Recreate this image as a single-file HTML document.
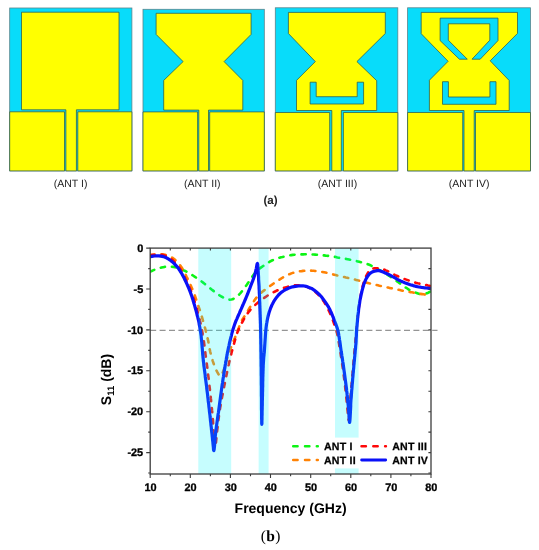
<!DOCTYPE html>
<html><head><meta charset="utf-8"><title>Antenna evolution and S11</title>
<style>html,body{margin:0;padding:0;background:#fff}svg{display:block}text{font-family:"Liberation Sans",sans-serif;fill:#000;text-rendering:geometricPrecision}.lab{font-size:10.5px;text-anchor:middle;fill:#222}.tk{font-size:10.9px;font-weight:bold;stroke:#000;stroke-width:0.3px}.lg{font-size:10.6px;font-weight:bold;letter-spacing:0.2px;stroke:#000;stroke-width:0.25px}</style></head><body>
<svg width="539" height="550" viewBox="0 0 539 550">
<rect width="539" height="550" fill="#fff"/>
<rect x="9.7" y="8.0" width="122.2" height="162.9" fill="#08dcfa" stroke="#5a848c" stroke-width="0.8"/>
<path d="M9.7 111.8 L64.5 111.8 L64.5 170.9 L9.7 170.9Z" fill="#ffff00" stroke="#2c5a4c" stroke-width="0.75"/><path d="M77.8 111.8 L131.9 111.8 L131.9 170.9 L77.8 170.9Z" fill="#ffff00" stroke="#2c5a4c" stroke-width="0.75"/>
<path d="M21.5 12.2 L119.0 12.2 L119.0 109.8 L76.4 109.8 L76.4 170.9 L65.9 170.9 L65.9 109.8 L21.5 109.8Z" fill="#ffff00" stroke="#2c5a4c" stroke-width="0.75"/>
<text class="lab" x="70.6" y="186.6">(ANT I)</text>
<rect x="143.0" y="9.3" width="121.3" height="161.6" fill="#08dcfa" stroke="#5a848c" stroke-width="0.8"/>
<path d="M143.0 111.9 L197.6 111.9 L197.6 170.9 L143.0 170.9Z" fill="#ffff00" stroke="#2c5a4c" stroke-width="0.75"/><path d="M209.7 111.9 L264.3 111.9 L264.3 170.9 L209.7 170.9Z" fill="#ffff00" stroke="#2c5a4c" stroke-width="0.75"/>
<path d="M156.1 13.3 L251.1 13.3 L251.1 34.4 L224.1 61.6 L242.8 80.4 L242.8 110.1 L208.5 110.1 L208.5 170.9 L198.8 170.9 L198.8 110.1 L163.7 110.1 L163.7 80.4 L183.1 61.6 L156.1 34.4Z" fill="#ffff00" stroke="#2c5a4c" stroke-width="0.75"/>
<text class="lab" x="202.3" y="186.6">(ANT II)</text>
<rect x="275.3" y="7.8" width="122.5" height="163.1" fill="#08dcfa" stroke="#5a848c" stroke-width="0.8"/>
<path d="M275.3 112.5 L329.7 112.5 L329.7 170.9 L275.3 170.9Z" fill="#ffff00" stroke="#2c5a4c" stroke-width="0.75"/><path d="M343.4 112.5 L397.8 112.5 L397.8 170.9 L343.4 170.9Z" fill="#ffff00" stroke="#2c5a4c" stroke-width="0.75"/>
<path d="M288.4 12.4 L385.3 12.4 L385.3 33.5 L356.9 61.6 L376.7 80.7 L376.7 110.5 L341.3 110.5 L341.3 170.9 L331.8 170.9 L331.8 110.5 L296.5 110.5 L296.5 80.4 L315.3 61.6 L288.4 33.5Z" fill="#ffff00" stroke="#2c5a4c" stroke-width="0.75"/>
<path d="M310.1 82.2 L316.2 82.2 L316.2 96.7 L357.2 96.7 L357.2 82.2 L363.6 82.2 L363.6 104.0 L310.1 104.0Z" fill="#08dcfa" stroke="#2c5a4c" stroke-width="0.75"/>
<text class="lab" x="337.4" y="186.6">(ANT III)</text>
<rect x="407.6" y="7.8" width="122.9" height="163.1" fill="#08dcfa" stroke="#5a848c" stroke-width="0.8"/>
<path d="M407.6 112.5 L462.7 112.5 L462.7 170.9 L407.6 170.9Z" fill="#ffff00" stroke="#2c5a4c" stroke-width="0.75"/><path d="M475.5 112.5 L530.5 112.5 L530.5 170.9 L475.5 170.9Z" fill="#ffff00" stroke="#2c5a4c" stroke-width="0.75"/>
<path d="M421.2 12.4 L517.5 12.4 L517.5 33.4 L490.2 60.8 L509.2 80.5 L509.2 110.5 L474.2 110.5 L474.2 170.9 L464.0 170.9 L464.0 110.5 L429.4 110.5 L429.4 80.2 L448.1 61.3 L421.2 33.7Z" fill="#ffff00" stroke="#2c5a4c" stroke-width="0.75"/>
<path d="M442.5 81.7 L448.4 81.7 L448.4 97.0 L489.9 97.0 L489.9 81.7 L496.0 81.7 L496.0 104.3 L442.5 104.3Z" fill="#08dcfa" stroke="#2c5a4c" stroke-width="0.75"/>
<path d="M467.3 59.2 L459.4 59.2 L440.1 40.6 L440.1 18.1 L498.0 18.1 L498.0 40.6 L480.2 59.2 L472.0 59.2 L489.8 40.2 L489.8 23.8 L448.3 23.8 L448.3 40.2Z" fill="#08dcfa" stroke="#2c5a4c" stroke-width="0.75"/>
<text class="lab" x="469.2" y="186.6">(ANT IV)</text>
<text x="270.5" y="204" text-anchor="middle" style="font-size:11.6px;font-weight:bold;fill:#222">(a)</text>
<path d="M150.2 330.3H437.5" stroke="#6c6c6c" stroke-width="0.9" stroke-dasharray="6 3.4" fill="none"/>
<clipPath id="pc"><rect x="150.2" y="248.1" width="280.8" height="225.9"/></clipPath>
<g stroke-linecap="round" clip-path="url(#pc)">
<path d="M150.3 271.6 L151.7 271.0 L153.0 270.4 L154.4 269.8 L155.8 269.3 L157.2 268.8 L158.6 268.3 L160.1 267.9 L161.5 267.5 L163.0 267.2 L164.5 266.9 L165.9 266.7 L167.4 266.7 L168.9 266.7 L170.4 266.7 L171.9 266.7 L173.4 266.9 L174.9 267.1 L176.3 267.4 L177.8 267.8 L179.2 268.3 L180.6 268.8 L181.9 269.5 L183.3 270.1 L184.7 270.8 L186.0 271.4 L187.3 272.1 L188.6 272.9 L189.9 273.6 L191.2 274.4 L192.4 275.2 L193.7 276.0 L194.9 276.8 L196.2 277.7 L197.4 278.5 L198.6 279.4 L199.9 280.2 L201.1 281.1 L202.3 282.0 L203.5 282.9 L204.6 283.8 L205.8 284.7 L207.0 285.7 L208.1 286.6 L209.3 287.6 L210.4 288.5 L211.6 289.5 L212.8 290.4 L214.0 291.3 L215.1 292.2 L216.3 293.1 L217.6 294.0 L218.8 294.9 L220.0 295.7 L221.3 296.5 L222.6 297.2 L223.9 297.9 L225.3 298.5 L226.7 299.0 L228.1 299.5 L229.6 299.7 L231.1 299.5 L232.5 299.2 L233.9 298.6 L235.2 297.9 L236.4 297.1 L237.5 296.1 L238.6 295.1 L239.6 294.0 L240.7 292.8 L241.6 291.7 L242.6 290.5 L243.5 289.4 L244.4 288.2 L245.3 286.9 L246.1 285.7 L247.0 284.5 L247.8 283.2 L248.7 282.0 L249.5 280.8 L250.4 279.5 L251.2 278.2 L252.0 277.0 L252.9 275.7 L253.8 274.5 L254.7 273.3 L255.6 272.2 L256.6 271.1 L257.6 270.1 L258.8 269.2 L260.0 268.3 L261.2 267.4 L262.4 266.5 L263.7 265.7 L264.9 264.8 L266.2 264.0 L267.4 263.1 L268.7 262.3 L270.0 261.5 L271.3 260.8 L272.6 260.2 L273.9 259.6 L275.3 259.1 L276.7 258.6 L278.2 258.1 L279.6 257.7 L281.1 257.3 L282.5 257.0 L284.0 256.6 L285.4 256.3 L286.9 256.0 L288.4 255.7 L289.8 255.4 L291.3 255.1 L292.8 254.9 L294.3 254.7 L295.7 254.6 L297.2 254.5 L298.7 254.5 L300.2 254.4 L301.7 254.4 L303.2 254.4 L304.7 254.3 L306.2 254.3 L307.7 254.3 L309.2 254.3 L310.7 254.3 L312.2 254.4 L313.7 254.5 L315.1 254.6 L316.6 254.7 L318.1 254.9 L319.6 255.0 L321.1 255.2 L322.6 255.3 L324.1 255.4 L325.6 255.6 L327.0 255.7 L328.5 255.9 L330.0 256.1 L331.5 256.3 L333.0 256.5 L334.4 256.8 L335.9 257.1 L337.3 257.5 L338.8 257.8 L340.3 258.0 L341.7 258.3 L343.2 258.5 L344.7 258.7 L346.2 258.9 L347.6 259.2 L349.1 259.5 L350.6 259.8 L352.0 260.1 L353.5 260.4 L355.0 260.7 L356.4 261.1 L357.9 261.4 L359.3 261.8 L360.8 262.2 L362.2 262.6 L363.7 263.0 L365.1 263.4 L366.5 263.8 L367.9 264.3 L369.3 264.8 L370.7 265.4 L372.0 266.1 L373.3 266.8 L374.7 267.5 L376.0 268.2 L377.3 268.9 L378.6 269.6 L379.9 270.3 L381.2 271.0 L382.5 271.8 L383.8 272.5 L385.1 273.3 L386.4 274.1 L387.6 274.9 L388.9 275.7 L390.1 276.5 L391.4 277.3 L392.6 278.2 L393.8 279.0 L395.0 279.9 L396.3 280.8 L397.5 281.7 L398.7 282.5 L399.9 283.4 L401.1 284.3 L402.3 285.2 L403.5 286.1 L404.7 286.9 L406.0 287.7 L407.3 288.5 L408.5 289.3 L409.8 290.0 L411.2 290.7 L412.5 291.3 L413.9 291.9 L415.3 292.5 L416.7 293.0 L418.1 293.6 L419.6 294.0 L421.0 294.2 L422.5 294.1 L424.0 293.9 L425.5 293.6 L426.9 293.2 L428.3 292.7 L429.6 292.0 L430.9 291.2" fill="none" stroke="#0cf414" stroke-width="2.6" stroke-linejoin="round" stroke-dasharray="4.3 6.9"/>
<path d="M150.3 255.0 L151.8 254.8 L153.3 254.7 L154.8 254.6 L156.3 254.5 L157.8 254.5 L159.3 254.4 L160.8 254.4 L162.3 254.4 L163.8 254.5 L165.2 254.8 L166.7 255.3 L168.1 255.8 L169.5 256.3 L170.9 256.9 L172.2 257.6 L173.4 258.5 L174.6 259.4 L175.7 260.4 L176.8 261.5 L177.9 262.6 L178.9 263.7 L179.8 264.9 L180.6 266.0 L181.5 267.3 L182.3 268.5 L183.0 269.8 L183.8 271.2 L184.5 272.5 L185.2 273.9 L185.8 275.2 L186.5 276.6 L187.2 277.9 L187.9 279.2 L188.5 280.6 L189.2 281.9 L189.8 283.3 L190.4 284.7 L191.0 286.0 L191.6 287.4 L192.2 288.8 L192.8 290.2 L193.3 291.6 L193.9 293.0 L194.4 294.4 L194.9 295.8 L195.4 297.2 L195.9 298.6 L196.4 300.1 L196.8 301.5 L197.3 302.9 L197.8 304.3 L198.3 305.7 L198.8 307.1 L199.3 308.6 L199.8 310.0 L200.2 311.4 L200.7 312.8 L201.1 314.3 L201.5 315.7 L202.0 317.2 L202.4 318.6 L202.8 320.0 L203.2 321.5 L203.6 322.9 L204.0 324.4 L204.4 325.8 L204.8 327.3 L205.2 328.7 L205.6 330.2 L205.9 331.6 L206.3 333.1 L206.7 334.5 L207.1 336.0 L207.4 337.4 L207.7 338.9 L208.1 340.4 L208.4 341.8 L208.6 343.3 L208.9 344.8 L209.1 346.3 L209.4 347.7 L209.7 349.2 L210.0 350.7 L210.3 352.1 L210.7 353.6 L211.1 355.0 L211.4 356.5 L211.9 357.9 L212.3 359.4 L212.7 360.8 L213.2 362.3 L213.7 363.7 L214.1 365.1 L214.7 366.5 L215.2 367.9 L215.8 369.3 L216.5 370.6 L217.2 371.9 L218.0 373.3 L218.9 374.9 L219.8 376.0 L220.7 375.9 L221.6 374.7 L222.5 373.1 L223.1 371.7 L223.7 370.3 L224.1 368.9 L224.5 367.4 L224.9 366.0 L225.3 364.5 L225.7 363.0 L226.1 361.6 L226.6 360.2 L227.0 358.7 L227.5 357.3 L228.0 355.9 L228.4 354.5 L228.9 353.0 L229.4 351.6 L229.9 350.2 L230.4 348.8 L231.0 347.4 L231.5 346.0 L232.1 344.6 L232.7 343.2 L233.2 341.9 L233.8 340.5 L234.4 339.1 L235.0 337.7 L235.5 336.3 L236.1 334.9 L236.7 333.5 L237.2 332.1 L237.8 330.7 L238.3 329.3 L238.8 327.9 L239.3 326.5 L239.8 325.1 L240.3 323.7 L240.9 322.3 L241.5 321.0 L242.3 319.7 L243.1 318.4 L243.9 317.2 L244.8 315.9 L245.6 314.6 L246.4 313.4 L247.1 312.1 L247.9 310.8 L248.7 309.5 L249.4 308.2 L250.2 306.9 L251.0 305.6 L251.8 304.4 L252.6 303.1 L253.4 301.9 L254.3 300.6 L255.1 299.4 L256.0 298.2 L257.0 297.0 L257.9 295.8 L258.9 294.8 L260.0 293.7 L261.1 292.8 L262.3 291.8 L263.5 290.9 L264.7 290.0 L265.9 289.1 L267.1 288.2 L268.3 287.3 L269.5 286.4 L270.8 285.5 L272.0 284.7 L273.2 283.8 L274.4 282.9 L275.7 282.1 L276.9 281.3 L278.2 280.5 L279.5 279.7 L280.7 278.8 L282.0 278.0 L283.3 277.2 L284.6 276.5 L285.9 275.8 L287.2 275.1 L288.6 274.5 L290.0 274.0 L291.4 273.4 L292.8 272.9 L294.3 272.4 L295.7 272.0 L297.2 271.7 L298.7 271.4 L300.1 271.2 L301.6 271.1 L303.1 270.9 L304.6 270.8 L306.1 270.7 L307.6 270.6 L309.1 270.6 L310.6 270.6 L312.1 270.7 L313.6 270.8 L315.1 271.0 L316.6 271.2 L318.1 271.4 L319.6 271.6 L321.0 271.8 L322.5 272.0 L324.0 272.3 L325.5 272.6 L326.9 272.9 L328.4 273.2 L329.9 273.6 L331.3 273.9 L332.8 274.3 L334.2 274.7 L335.7 275.1 L337.1 275.5 L338.6 275.8 L340.0 276.2 L341.5 276.5 L342.9 276.8 L344.4 277.1 L345.9 277.5 L347.3 277.8 L348.8 278.1 L350.3 278.5 L351.7 278.8 L353.2 279.2 L354.6 279.5 L356.1 279.9 L357.5 280.3 L359.0 280.6 L360.4 281.0 L361.9 281.4 L363.3 281.8 L364.8 282.1 L366.2 282.5 L367.7 282.9 L369.2 283.3 L370.6 283.6 L372.1 284.0 L373.5 284.3 L375.0 284.7 L376.4 285.0 L377.9 285.3 L379.4 285.7 L380.8 286.0 L382.3 286.3 L383.8 286.6 L385.2 286.9 L386.7 287.3 L388.2 287.6 L389.6 287.9 L391.1 288.2 L392.6 288.5 L394.0 288.9 L395.5 289.2 L396.9 289.5 L398.4 289.8 L399.9 290.1 L401.4 290.4 L402.8 290.7 L404.3 291.0 L405.8 291.3 L407.2 291.5 L408.7 291.8 L410.2 292.1 L411.7 292.3 L413.1 292.6 L414.6 292.9 L416.1 293.1 L417.6 293.4 L419.1 293.6 L420.5 293.9 L422.0 294.1 L423.5 294.3 L425.0 294.6 L426.5 294.8 L427.9 295.0 L429.4 295.3 L430.9 295.5" fill="none" stroke="#ff8204" stroke-width="2.6" stroke-linejoin="round" stroke-dasharray="4.3 6.9"/>
<path d="M150.3 255.2 L151.8 255.0 L153.3 254.8 L154.8 254.7 L156.3 254.6 L157.8 254.6 L159.3 254.7 L160.8 254.8 L162.3 254.9 L163.7 255.1 L165.1 255.6 L166.5 256.2 L167.9 256.9 L169.2 257.6 L170.4 258.4 L171.6 259.3 L172.8 260.3 L173.9 261.4 L174.9 262.4 L175.9 263.5 L176.9 264.7 L177.9 265.8 L178.8 267.0 L179.7 268.3 L180.5 269.5 L181.3 270.8 L182.0 272.0 L182.7 273.4 L183.4 274.7 L184.1 276.0 L184.8 277.4 L185.4 278.8 L186.1 280.1 L186.7 281.5 L187.3 282.8 L188.0 284.2 L188.6 285.5 L189.2 286.9 L189.8 288.3 L190.4 289.7 L190.9 291.1 L191.5 292.4 L192.0 293.8 L192.5 295.3 L193.0 296.7 L193.5 298.1 L194.0 299.5 L194.4 300.9 L194.9 302.4 L195.3 303.8 L195.8 305.2 L196.2 306.7 L196.6 308.1 L197.0 309.5 L197.4 311.0 L197.8 312.4 L198.2 313.9 L198.6 315.3 L199.0 316.8 L199.3 318.2 L199.7 319.7 L200.0 321.1 L200.4 322.6 L200.7 324.1 L201.0 325.5 L201.3 327.0 L201.6 328.5 L201.9 329.9 L202.2 331.4 L202.5 332.9 L202.7 334.3 L203.0 335.8 L203.2 337.3 L203.4 338.8 L203.7 340.3 L203.9 341.7 L204.1 343.2 L204.3 344.7 L204.5 346.2 L204.7 347.7 L204.9 349.2 L205.1 350.7 L205.3 352.1 L205.4 353.6 L205.6 355.1 L205.8 356.6 L206.0 358.1 L206.2 359.6 L206.4 361.1 L206.6 362.5 L206.8 364.0 L207.0 365.5 L207.2 367.0 L207.4 368.5 L207.6 370.0 L207.7 371.5 L207.9 372.9 L208.1 374.4 L208.3 375.9 L208.5 377.4 L208.7 378.9 L208.8 380.4 L209.0 381.9 L209.2 383.3 L209.4 384.8 L209.5 386.3 L209.7 387.8 L209.9 389.3 L210.0 390.8 L210.2 392.3 L210.4 393.8 L210.5 395.3 L210.7 396.7 L210.8 398.2 L211.0 399.7 L211.1 401.2 L211.3 402.7 L211.4 404.2 L211.6 405.7 L211.7 407.2 L211.9 408.7 L212.0 410.2 L212.2 411.6 L212.3 413.1 L212.5 414.6 L212.6 416.2 L212.7 417.8 L212.9 419.6 L213.0 421.4 L213.1 423.3 L213.3 425.2 L213.4 427.2 L213.5 429.2 L213.6 431.2 L213.7 433.1 L213.9 435.0 L214.0 436.9 L214.1 438.6 L214.2 440.3 L214.3 441.8 L214.5 443.2 L214.6 444.4 L214.7 445.5 L214.9 446.3 L215.0 447.0 L215.1 447.4 L215.3 447.5 L215.4 447.2 L215.6 446.2 L215.8 444.8 L215.9 443.0 L216.1 441.0 L216.3 439.1 L216.5 437.2 L216.6 435.6 L216.8 434.2 L217.0 432.7 L217.1 431.2 L217.3 429.7 L217.5 428.2 L217.7 426.7 L217.8 425.2 L218.0 423.7 L218.2 422.2 L218.3 420.8 L218.5 419.3 L218.7 417.8 L218.9 416.3 L219.1 414.8 L219.3 413.3 L219.5 411.9 L219.7 410.4 L220.0 408.9 L220.2 407.4 L220.5 405.9 L220.7 404.5 L221.0 403.0 L221.3 401.5 L221.6 400.1 L221.8 398.6 L222.1 397.1 L222.4 395.6 L222.7 394.2 L223.0 392.7 L223.3 391.2 L223.6 389.8 L223.9 388.3 L224.1 386.8 L224.4 385.3 L224.7 383.9 L225.0 382.4 L225.3 380.9 L225.6 379.5 L225.9 378.0 L226.2 376.5 L226.5 375.1 L226.8 373.6 L227.1 372.1 L227.4 370.7 L227.7 369.2 L228.0 367.7 L228.3 366.3 L228.7 364.8 L229.0 363.3 L229.3 361.9 L229.7 360.4 L230.0 359.0 L230.4 357.5 L230.7 356.1 L231.1 354.6 L231.4 353.2 L231.8 351.7 L232.2 350.3 L232.6 348.8 L233.0 347.4 L233.4 345.9 L233.8 344.5 L234.2 343.0 L234.6 341.6 L235.0 340.1 L235.4 338.7 L235.8 337.3 L236.3 335.8 L236.7 334.4 L237.2 333.0 L237.8 331.6 L238.3 330.2 L238.9 328.8 L239.5 327.5 L240.2 326.1 L240.9 324.8 L241.6 323.5 L242.3 322.1 L243.0 320.8 L243.7 319.5 L244.5 318.2 L245.2 316.9 L246.0 315.6 L246.8 314.4 L247.7 313.2 L248.6 312.0 L249.6 310.8 L250.5 309.7 L251.6 308.6 L252.6 307.5 L253.6 306.4 L254.7 305.4 L255.8 304.4 L256.9 303.4 L258.1 302.4 L259.3 301.5 L260.4 300.5 L261.6 299.6 L262.9 298.8 L264.1 297.9 L265.3 297.1 L266.6 296.2 L267.8 295.4 L269.1 294.6 L270.4 293.9 L271.7 293.2 L273.1 292.5 L274.4 291.8 L275.7 291.2 L277.1 290.5 L278.5 289.9 L279.9 289.3 L281.3 288.8 L282.7 288.3 L284.1 287.8 L285.5 287.4 L287.0 287.0 L288.4 286.5 L289.9 286.2 L291.4 285.8 L292.8 285.5 L294.3 285.4 L295.8 285.3 L297.3 285.3 L298.8 285.4 L300.3 285.5 L301.8 285.6 L303.3 285.8 L304.7 286.1 L306.2 286.6 L307.6 287.1 L309.0 287.7 L310.3 288.4 L311.6 289.1 L312.8 289.9 L314.0 290.9 L315.2 291.9 L316.3 292.9 L317.4 293.9 L318.5 294.9 L319.5 296.0 L320.5 297.2 L321.5 298.3 L322.4 299.5 L323.3 300.7 L324.1 301.9 L324.9 303.2 L325.7 304.5 L326.4 305.8 L327.1 307.1 L327.8 308.5 L328.4 309.8 L329.1 311.2 L329.7 312.5 L330.3 313.9 L330.9 315.3 L331.5 316.7 L332.0 318.1 L332.6 319.5 L333.1 320.9 L333.6 322.3 L334.1 323.7 L334.6 325.1 L335.1 326.5 L335.6 328.0 L336.0 329.4 L336.4 330.8 L336.8 332.3 L337.2 333.7 L337.5 335.2 L337.8 336.6 L338.1 338.1 L338.3 339.6 L338.6 341.1 L338.8 342.5 L339.1 344.0 L339.3 345.5 L339.5 347.0 L339.8 348.5 L340.0 349.9 L340.2 351.4 L340.5 352.9 L340.7 354.4 L340.9 355.9 L341.2 357.3 L341.4 358.8 L341.6 360.3 L341.8 361.8 L342.0 363.3 L342.3 364.8 L342.5 366.2 L342.7 367.7 L342.9 369.2 L343.1 370.7 L343.3 372.2 L343.5 373.7 L343.7 375.1 L343.9 376.6 L344.1 378.1 L344.3 379.6 L344.4 381.1 L344.6 382.6 L344.8 384.1 L345.0 385.5 L345.2 387.0 L345.3 388.5 L345.5 390.0 L345.7 391.5 L345.8 393.0 L346.0 394.5 L346.1 396.0 L346.3 397.5 L346.4 398.9 L346.6 400.4 L346.7 401.9 L346.8 403.4 L347.0 404.9 L347.1 406.4 L347.3 407.9 L347.4 409.4 L347.6 410.9 L347.8 412.8 L347.9 414.8 L348.1 416.7 L348.3 418.3 L348.4 419.5 L348.6 420.0 L348.7 419.8 L348.8 419.1 L349.0 417.9 L349.1 416.4 L349.2 414.7 L349.3 412.8 L349.4 410.8 L349.5 408.8 L349.7 406.9 L349.8 405.3 L349.9 403.8 L350.0 402.3 L350.1 400.8 L350.3 399.3 L350.4 397.8 L350.5 396.3 L350.7 394.8 L350.8 393.3 L350.9 391.8 L351.0 390.3 L351.2 388.9 L351.3 387.4 L351.4 385.9 L351.6 384.4 L351.7 382.9 L351.8 381.4 L351.9 379.9 L352.1 378.4 L352.2 376.9 L352.3 375.4 L352.5 373.9 L352.6 372.4 L352.7 371.0 L352.8 369.5 L353.0 368.0 L353.1 366.5 L353.2 365.0 L353.4 363.5 L353.5 362.0 L353.6 360.5 L353.8 359.0 L353.9 357.5 L354.0 356.0 L354.2 354.5 L354.3 353.0 L354.4 351.6 L354.6 350.1 L354.7 348.6 L354.9 347.1 L355.0 345.6 L355.1 344.1 L355.3 342.6 L355.4 341.1 L355.5 339.6 L355.7 338.1 L355.8 336.6 L355.9 335.1 L356.1 333.7 L356.2 332.2 L356.3 330.7 L356.4 329.2 L356.6 327.7 L356.7 326.2 L356.8 324.7 L357.0 323.2 L357.1 321.7 L357.3 320.2 L357.4 318.7 L357.6 317.3 L357.8 315.8 L357.9 314.3 L358.1 312.8 L358.3 311.3 L358.5 309.8 L358.7 308.3 L358.9 306.9 L359.2 305.4 L359.4 303.9 L359.6 302.4 L359.8 300.9 L360.1 299.5 L360.3 298.0 L360.6 296.5 L360.8 295.0 L361.1 293.5 L361.4 292.1 L361.7 290.6 L362.0 289.1 L362.3 287.7 L362.7 286.2 L363.1 284.8 L363.5 283.3 L363.9 281.9 L364.4 280.4 L364.9 279.0 L365.5 277.6 L366.1 276.2 L366.8 274.9 L367.5 273.6 L368.3 272.2 L369.3 270.8 L370.3 269.6 L371.4 268.8 L372.6 268.5 L374.0 268.4 L375.6 268.3 L377.2 268.2 L378.7 268.2 L380.2 268.2 L381.6 268.6 L383.1 269.1 L384.5 269.8 L385.8 270.4 L387.2 271.0 L388.6 271.7 L389.9 272.4 L391.2 273.1 L392.5 273.8 L393.9 274.5 L395.2 275.1 L396.6 275.7 L398.0 276.3 L399.4 276.9 L400.8 277.4 L402.1 278.0 L403.5 278.6 L404.9 279.1 L406.3 279.6 L407.7 280.1 L409.2 280.6 L410.6 281.1 L412.0 281.6 L413.4 282.1 L414.9 282.5 L416.3 282.9 L417.7 283.3 L419.2 283.6 L420.7 283.9 L422.1 284.2 L423.6 284.5 L425.1 284.8 L426.5 285.1 L428.0 285.5 L429.4 285.8 L430.9 286.2" fill="none" stroke="#ff0808" stroke-width="2.6" stroke-linejoin="round" stroke-dasharray="4.3 6.9"/>
<path d="M150.3 256.7 L151.8 256.4 L153.2 256.1 L154.7 256.0 L156.2 255.8 L157.7 255.8 L159.2 255.9 L160.7 256.2 L162.2 256.4 L163.7 256.8 L165.1 257.2 L166.4 257.8 L167.7 258.5 L169.0 259.4 L170.3 260.3 L171.5 261.2 L172.6 262.1 L173.7 263.1 L174.8 264.2 L175.8 265.3 L176.8 266.4 L177.8 267.6 L178.7 268.8 L179.5 270.0 L180.3 271.3 L181.1 272.5 L181.9 273.8 L182.6 275.2 L183.3 276.5 L184.0 277.9 L184.6 279.2 L185.3 280.6 L185.9 281.9 L186.6 283.3 L187.2 284.6 L187.8 286.0 L188.4 287.4 L189.0 288.8 L189.5 290.2 L190.1 291.6 L190.6 293.0 L191.1 294.4 L191.6 295.8 L192.1 297.2 L192.5 298.6 L193.0 300.1 L193.4 301.5 L193.8 302.9 L194.3 304.4 L194.7 305.8 L195.1 307.3 L195.5 308.7 L195.9 310.2 L196.3 311.6 L196.7 313.1 L197.0 314.5 L197.4 316.0 L197.8 317.4 L198.1 318.9 L198.5 320.3 L198.8 321.8 L199.1 323.3 L199.3 324.7 L199.6 326.2 L199.9 327.7 L200.1 329.2 L200.3 330.7 L200.6 332.1 L200.8 333.6 L201.0 335.1 L201.2 336.6 L201.3 338.1 L201.5 339.6 L201.6 341.1 L201.8 342.6 L201.9 344.1 L202.0 345.5 L202.1 347.0 L202.3 348.5 L202.4 350.0 L202.5 351.5 L202.6 353.0 L202.7 354.5 L202.9 356.0 L203.0 357.5 L203.2 359.0 L203.3 360.5 L203.5 362.0 L203.7 363.5 L203.8 365.0 L204.0 366.4 L204.2 367.9 L204.4 369.4 L204.6 370.9 L204.8 372.4 L205.0 373.9 L205.2 375.4 L205.3 376.9 L205.5 378.3 L205.7 379.8 L205.9 381.3 L206.1 382.8 L206.3 384.3 L206.5 385.8 L206.7 387.3 L206.8 388.8 L207.0 390.2 L207.2 391.7 L207.4 393.2 L207.6 394.7 L207.7 396.2 L207.9 397.7 L208.1 399.2 L208.2 400.7 L208.4 402.2 L208.6 403.6 L208.8 405.1 L208.9 406.6 L209.1 408.1 L209.3 409.6 L209.4 411.1 L209.6 412.6 L209.8 414.1 L210.0 415.6 L210.1 417.0 L210.3 418.5 L210.4 420.0 L210.6 421.5 L210.8 423.0 L210.9 424.5 L211.1 426.0 L211.3 427.5 L211.4 429.0 L211.6 430.5 L211.7 431.9 L211.9 433.4 L212.1 434.9 L212.2 436.4 L212.4 437.9 L212.5 439.4 L212.7 440.9 L212.9 442.4 L213.0 443.9 L213.2 445.7 L213.4 447.7 L213.5 449.4 L213.7 450.4 L213.9 450.5 L214.0 450.0 L214.2 449.1 L214.3 447.9 L214.5 446.3 L214.6 444.5 L214.8 442.6 L214.9 440.6 L215.1 438.7 L215.2 436.8 L215.4 435.0 L215.6 433.5 L215.7 432.0 L215.9 430.5 L216.1 429.0 L216.3 427.5 L216.5 426.0 L216.7 424.6 L216.9 423.1 L217.1 421.6 L217.3 420.1 L217.5 418.6 L217.7 417.1 L217.9 415.6 L218.1 414.2 L218.4 412.7 L218.6 411.2 L218.8 409.7 L219.0 408.2 L219.2 406.7 L219.4 405.2 L219.6 403.8 L219.8 402.3 L220.0 400.8 L220.2 399.3 L220.4 397.8 L220.6 396.3 L220.8 394.8 L221.0 393.4 L221.2 391.9 L221.4 390.4 L221.6 388.9 L221.8 387.4 L222.0 385.9 L222.2 384.5 L222.5 383.0 L222.7 381.5 L222.9 380.0 L223.1 378.5 L223.4 377.0 L223.6 375.6 L223.8 374.1 L224.0 372.6 L224.3 371.1 L224.5 369.6 L224.8 368.2 L225.0 366.7 L225.2 365.2 L225.5 363.7 L225.7 362.2 L226.0 360.8 L226.3 359.3 L226.5 357.8 L226.8 356.3 L227.1 354.9 L227.3 353.4 L227.6 351.9 L227.9 350.5 L228.2 349.0 L228.5 347.5 L228.9 346.1 L229.2 344.6 L229.5 343.1 L229.8 341.7 L230.2 340.2 L230.5 338.7 L230.9 337.3 L231.3 335.8 L231.6 334.4 L232.0 332.9 L232.4 331.5 L232.8 330.1 L233.3 328.6 L233.7 327.2 L234.2 325.8 L234.7 324.3 L235.2 322.9 L235.7 321.5 L236.3 320.1 L236.9 318.8 L237.5 317.4 L238.1 316.0 L238.7 314.6 L239.3 313.3 L239.9 311.9 L240.5 310.5 L241.1 309.2 L241.7 307.8 L242.3 306.4 L242.9 305.0 L243.5 303.7 L244.1 302.3 L244.7 300.9 L245.3 299.5 L245.9 298.2 L246.4 296.8 L247.0 295.4 L247.6 294.0 L248.1 292.6 L248.7 291.2 L249.2 289.8 L249.8 288.4 L250.3 287.0 L250.8 285.6 L251.4 284.2 L251.9 282.8 L252.5 281.4 L253.0 280.0 L253.5 278.6 L254.0 277.2 L254.5 275.8 L254.9 274.3 L255.3 272.9 L255.6 271.4 L256.0 270.0 L256.3 268.5 L256.6 266.7 L256.9 264.8 L257.2 263.6 L257.4 263.5 L257.6 264.0 L257.7 265.1 L257.9 266.5 L258.0 268.1 L258.1 270.0 L258.3 272.0 L258.4 274.0 L258.5 275.9 L258.6 277.6 L258.6 279.1 L258.7 280.6 L258.8 282.1 L258.9 283.6 L259.0 285.1 L259.1 286.6 L259.1 288.1 L259.2 289.6 L259.3 291.1 L259.3 292.6 L259.4 294.1 L259.5 295.6 L259.5 297.1 L259.6 298.6 L259.6 300.1 L259.7 301.6 L259.8 303.1 L259.8 304.6 L259.9 306.1 L259.9 307.6 L260.0 309.1 L260.0 310.6 L260.1 312.1 L260.1 313.6 L260.2 315.1 L260.2 316.6 L260.3 318.1 L260.3 319.6 L260.4 321.1 L260.4 322.6 L260.5 324.1 L260.5 325.6 L260.5 327.1 L260.6 328.6 L260.6 330.1 L260.6 331.6 L260.7 333.1 L260.7 334.6 L260.7 336.1 L260.7 337.6 L260.8 339.1 L260.8 340.6 L260.8 342.1 L260.8 343.6 L260.9 345.1 L260.9 346.6 L260.9 348.1 L260.9 349.6 L260.9 351.1 L261.0 352.6 L261.0 354.1 L261.0 355.6 L261.0 357.0 L261.0 358.5 L261.1 360.0 L261.1 361.5 L261.1 363.0 L261.1 364.5 L261.1 366.0 L261.2 367.5 L261.2 369.0 L261.2 370.5 L261.2 372.0 L261.2 373.5 L261.2 375.0 L261.3 376.5 L261.3 378.0 L261.3 379.5 L261.3 381.1 L261.3 382.7 L261.3 384.4 L261.4 386.1 L261.4 388.0 L261.4 389.9 L261.4 391.8 L261.4 393.7 L261.4 395.7 L261.5 397.7 L261.5 399.7 L261.5 401.7 L261.5 403.7 L261.5 405.6 L261.5 407.5 L261.5 409.4 L261.6 411.2 L261.6 412.9 L261.6 414.5 L261.6 416.1 L261.6 417.5 L261.6 418.9 L261.7 420.1 L261.7 421.2 L261.7 422.1 L261.7 422.9 L261.7 423.5 L261.8 424.0 L261.8 424.2 L261.8 424.3 L261.8 424.1 L261.9 423.7 L261.9 423.0 L261.9 422.0 L261.9 420.9 L262.0 419.6 L262.0 418.1 L262.0 416.5 L262.1 414.8 L262.1 413.0 L262.1 411.1 L262.2 409.1 L262.2 407.1 L262.3 405.1 L262.3 403.2 L262.3 401.2 L262.4 399.3 L262.4 397.5 L262.5 395.7 L262.5 394.1 L262.5 392.6 L262.6 391.1 L262.6 389.6 L262.6 388.1 L262.7 386.6 L262.7 385.1 L262.7 383.6 L262.7 382.1 L262.8 380.6 L262.8 379.1 L262.8 377.6 L262.9 376.1 L262.9 374.6 L263.0 373.1 L263.0 371.6 L263.1 370.1 L263.1 368.6 L263.2 367.1 L263.2 365.6 L263.3 364.1 L263.4 362.7 L263.5 361.2 L263.6 359.7 L263.7 358.2 L263.8 356.7 L264.0 355.2 L264.1 353.7 L264.3 352.2 L264.4 350.7 L264.5 349.2 L264.6 347.7 L264.7 346.2 L264.8 344.7 L264.9 343.2 L265.0 341.7 L265.1 340.2 L265.2 338.7 L265.3 337.2 L265.4 335.7 L265.5 334.2 L265.6 332.7 L265.7 331.3 L265.9 329.8 L266.0 328.3 L266.2 326.8 L266.4 325.3 L266.6 323.8 L266.9 322.3 L267.1 320.8 L267.4 319.4 L267.7 317.9 L268.0 316.5 L268.4 315.0 L268.8 313.5 L269.2 312.1 L269.7 310.7 L270.2 309.3 L270.7 307.9 L271.3 306.5 L271.9 305.1 L272.6 303.8 L273.3 302.4 L274.0 301.1 L274.8 299.9 L275.7 298.6 L276.5 297.4 L277.5 296.2 L278.5 295.0 L279.5 294.0 L280.6 293.0 L281.7 292.1 L283.0 291.2 L284.3 290.3 L285.6 289.6 L286.9 289.0 L288.3 288.3 L289.7 287.8 L291.1 287.3 L292.6 286.8 L294.0 286.6 L295.5 286.4 L297.0 286.2 L298.5 286.0 L300.0 285.9 L301.5 285.8 L303.0 285.8 L304.5 286.0 L306.0 286.4 L307.4 286.8 L308.9 287.4 L310.2 287.9 L311.6 288.5 L312.8 289.2 L314.1 290.1 L315.3 291.0 L316.5 292.0 L317.6 293.0 L318.7 294.0 L319.8 295.0 L320.8 296.1 L321.8 297.3 L322.7 298.5 L323.6 299.7 L324.5 300.9 L325.4 302.1 L326.2 303.3 L327.0 304.6 L327.8 305.9 L328.6 307.2 L329.3 308.5 L330.0 309.8 L330.6 311.2 L331.2 312.5 L331.8 313.9 L332.4 315.3 L332.9 316.7 L333.5 318.1 L334.0 319.5 L334.5 320.9 L335.1 322.3 L335.6 323.7 L336.2 325.2 L336.7 326.6 L337.2 328.0 L337.6 329.4 L338.0 330.9 L338.3 332.3 L338.6 333.8 L338.8 335.2 L339.1 336.7 L339.3 338.2 L339.5 339.7 L339.8 341.2 L340.0 342.7 L340.2 344.1 L340.4 345.6 L340.6 347.1 L340.8 348.6 L341.0 350.1 L341.2 351.6 L341.5 353.1 L341.7 354.5 L341.9 356.0 L342.2 357.5 L342.4 359.0 L342.6 360.5 L342.8 362.0 L343.1 363.4 L343.3 364.9 L343.5 366.4 L343.7 367.9 L343.9 369.4 L344.1 370.9 L344.3 372.3 L344.5 373.8 L344.7 375.3 L344.9 376.8 L345.1 378.3 L345.3 379.8 L345.5 381.3 L345.7 382.7 L345.9 384.2 L346.1 385.7 L346.3 387.2 L346.5 388.7 L346.6 390.2 L346.8 391.7 L347.0 393.2 L347.1 394.7 L347.3 396.1 L347.4 397.6 L347.6 399.1 L347.7 400.6 L347.9 402.1 L348.0 403.6 L348.2 405.1 L348.3 406.6 L348.4 408.1 L348.6 409.6 L348.7 411.2 L348.8 413.0 L349.0 415.0 L349.1 416.9 L349.2 418.8 L349.3 420.4 L349.4 421.6 L349.5 422.3 L349.6 422.4 L349.7 422.0 L349.8 421.3 L349.9 420.3 L350.0 419.1 L350.1 417.6 L350.2 415.9 L350.3 414.1 L350.4 412.2 L350.5 410.2 L350.6 408.3 L350.7 406.3 L350.7 404.4 L350.8 402.5 L350.9 400.9 L351.0 399.3 L351.2 397.8 L351.3 396.3 L351.4 394.8 L351.5 393.4 L351.6 391.9 L351.7 390.4 L351.9 388.9 L352.0 387.4 L352.1 385.9 L352.2 384.4 L352.4 382.9 L352.5 381.4 L352.6 379.9 L352.7 378.4 L352.9 376.9 L353.0 375.4 L353.1 373.9 L353.3 372.4 L353.4 370.9 L353.5 369.5 L353.7 368.0 L353.8 366.5 L353.9 365.0 L354.1 363.5 L354.2 362.0 L354.4 360.5 L354.5 359.0 L354.6 357.5 L354.8 356.0 L354.9 354.5 L355.1 353.0 L355.2 351.5 L355.3 350.0 L355.5 348.6 L355.6 347.1 L355.7 345.6 L355.9 344.1 L356.0 342.6 L356.1 341.1 L356.1 339.6 L356.2 338.1 L356.3 336.6 L356.4 335.1 L356.4 333.6 L356.5 332.1 L356.6 330.6 L356.7 329.1 L356.8 327.6 L357.0 326.1 L357.1 324.6 L357.2 323.1 L357.4 321.6 L357.5 320.1 L357.6 318.6 L357.8 317.2 L357.9 315.7 L358.1 314.2 L358.3 312.7 L358.5 311.2 L358.6 309.7 L358.8 308.2 L359.0 306.7 L359.2 305.3 L359.5 303.8 L359.7 302.3 L359.9 300.8 L360.2 299.3 L360.5 297.9 L360.8 296.4 L361.1 294.9 L361.4 293.5 L361.8 292.0 L362.1 290.5 L362.5 289.1 L362.9 287.6 L363.3 286.2 L363.7 284.7 L364.2 283.3 L364.8 281.9 L365.3 280.5 L366.0 279.1 L366.7 277.8 L367.5 276.5 L368.3 275.3 L369.3 274.2 L370.4 273.1 L371.7 272.2 L373.0 271.6 L374.4 271.2 L375.9 270.9 L377.4 270.7 L378.9 270.6 L380.3 270.9 L381.7 271.4 L383.2 272.0 L384.5 272.7 L385.9 273.2 L387.3 273.9 L388.6 274.5 L390.0 275.2 L391.3 275.9 L392.6 276.6 L394.0 277.3 L395.3 278.0 L396.6 278.8 L397.9 279.6 L399.2 280.3 L400.5 280.9 L401.9 281.5 L403.3 282.1 L404.7 282.7 L406.1 283.2 L407.5 283.7 L408.9 284.2 L410.3 284.7 L411.8 285.1 L413.2 285.6 L414.6 286.0 L416.1 286.4 L417.5 286.7 L419.0 287.0 L420.5 287.2 L422.0 287.5 L423.5 287.7 L424.9 287.8 L426.4 288.0 L427.9 288.2 L429.4 288.4 L430.9 288.6" fill="none" stroke="#0a10f8" stroke-width="3.2" stroke-linejoin="round"/>
</g>
<g fill="#00f4fa" fill-opacity="0.225">
<rect x="198.3" y="248.1" width="32.9" height="225.9"/>
<rect x="258.6" y="248.1" width="10.0" height="225.9"/>
<rect x="335.0" y="248.1" width="23.6" height="225.9"/>
</g>
<rect x="286" y="437.6" width="144" height="30.8" fill="#fff"/>
<g fill="none" stroke-width="2.5" stroke-linecap="round">
<path d="M293.2 446.2h4.4m7.4 0h4.4m7.4 0h1" stroke="#0cf414"/>
<path d="M293.2 459.9h4.4m7.4 0h4.4m7.4 0h1" stroke="#ff8204"/>
<path d="M361.5 446.3h4.4m7.4 0h4.4m7.4 0h0.8" stroke="#ff0808"/>
<path d="M361.6 460h24.1" stroke="#0a10f8" stroke-width="2.8"/>
</g>
<text class="lg" x="324" y="449.9">ANT I</text>
<text class="lg" x="324" y="463.6">ANT II</text>
<text class="lg" x="392.2" y="449.9">ANT III</text>
<text class="lg" x="392.2" y="463.6">ANT IV</text>
<rect x="150.2" y="248.1" width="280.8" height="225.9" fill="none" stroke="#3c3c3c" stroke-width="1.3"/>
<path d="M150.2 474.0v4 M170.3 474.0v2.2 M170.3 248.1v2.4 M190.3 474.0v4 M190.3 248.1v2.4 M210.4 474.0v2.2 M210.4 248.1v2.4 M230.4 474.0v4 M230.4 248.1v2.4 M250.5 474.0v2.2 M250.5 248.1v2.4 M270.5 474.0v4 M270.5 248.1v2.4 M290.6 474.0v2.2 M290.6 248.1v2.4 M310.7 474.0v4 M310.7 248.1v2.4 M330.7 474.0v2.2 M330.7 248.1v2.4 M350.8 474.0v4 M350.8 248.1v2.4 M370.8 474.0v2.2 M370.8 248.1v2.4 M390.9 474.0v4 M390.9 248.1v2.4 M410.9 474.0v2.2 M410.9 248.1v2.4 M431.0 474.0v4 M150.2 248.1h-4 M150.2 268.6h-2.0 M431.0 268.6h-2.6 M150.2 289.0h-4 M431.0 289.0h-2.6 M150.2 309.4h-2.0 M431.0 309.4h-2.6 M150.2 329.9h-4 M431.0 329.9h-2.6 M150.2 350.4h-2.0 M431.0 350.4h-2.6 M150.2 370.8h-4 M431.0 370.8h-2.6 M150.2 391.2h-2.0 M431.0 391.2h-2.6 M150.2 411.7h-4 M431.0 411.7h-2.6 M150.2 432.1h-2.0 M431.0 432.1h-2.6 M150.2 452.6h-4 M431.0 452.6h-2.6 M150.2 473.0h-2.0 M431.0 473.0h-2.6" stroke="#3c3c3c" stroke-width="1.1" fill="none"/>
<text class="tk" x="150.5" y="491.2" text-anchor="middle">10</text>
<text class="tk" x="190.6" y="491.2" text-anchor="middle">20</text>
<text class="tk" x="230.7" y="491.2" text-anchor="middle">30</text>
<text class="tk" x="270.8" y="491.2" text-anchor="middle">40</text>
<text class="tk" x="311.0" y="491.2" text-anchor="middle">50</text>
<text class="tk" x="351.1" y="491.2" text-anchor="middle">60</text>
<text class="tk" x="391.2" y="491.2" text-anchor="middle">70</text>
<text class="tk" x="431.3" y="491.2" text-anchor="middle">80</text>
<text class="tk" x="143.2" y="251.7" text-anchor="end">0</text>
<text class="tk" x="143.2" y="292.6" text-anchor="end">-5</text>
<text class="tk" x="143.2" y="333.5" text-anchor="end">-10</text>
<text class="tk" x="143.2" y="374.4" text-anchor="end">-15</text>
<text class="tk" x="143.2" y="415.3" text-anchor="end">-20</text>
<text class="tk" x="143.2" y="456.2" text-anchor="end">-25</text>
<text x="290.6" y="513.4" text-anchor="middle" style="font-size:14px;font-weight:bold">Frequency (GHz)</text>
<text transform="translate(110.6 379.5) rotate(-90)" text-anchor="middle" style="font-size:14px;font-weight:bold">S<tspan dy="3.5" style="font-size:9.5px">11</tspan><tspan dy="-3.5"> (dB)</tspan></text>
<text x="270.8" y="540.6" text-anchor="middle" style="font-family:'Liberation Serif',serif;font-size:15.5px;letter-spacing:0.3px">(<tspan style="font-weight:bold">b</tspan>)</text>
</svg></body></html>
